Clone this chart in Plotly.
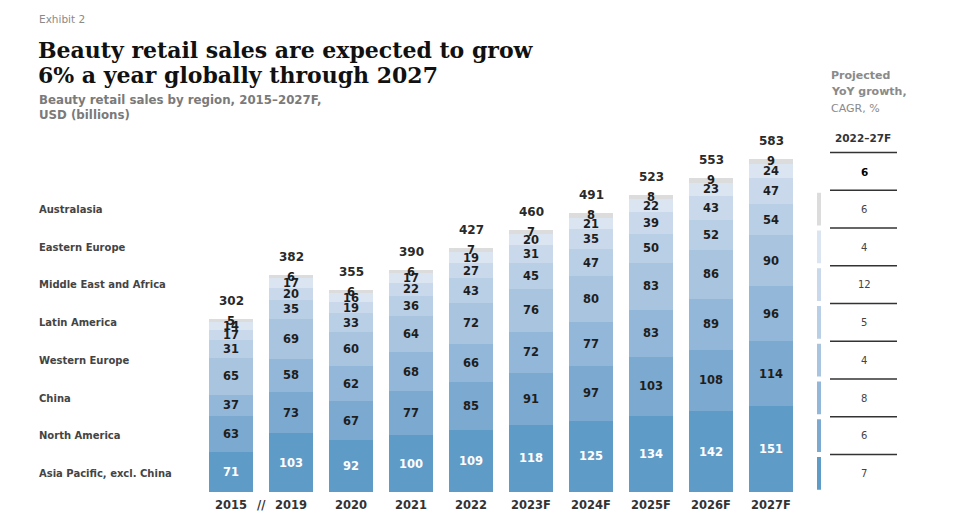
import plotly.graph_objects as go

years = ["2015", "2019", "2020", "2021", "2022", "2023F", "2024F", "2025F", "2026F", "2027F"]
totals = [302, 382, 355, 390, 427, 460, 491, 523, 553, 583]

# bottom to top
regions = ["Asia Pacific, excl. China", "North America", "China", "Western Europe",
           "Latin America", "Middle East and Africa", "Eastern Europe", "Australasia"]
asia_pacific = [71, 103, 92, 100, 109, 118, 125, 134, 142, 151]
north_america = [63, 73, 67, 77, 85, 91, 97, 103, 108, 114]
china = [37, 58, 62, 68, 66, 72, 77, 83, 89, 96]
western_europe = [65, 69, 60, 64, 72, 76, 80, 83, 86, 90]
latin_america = [31, 35, 33, 36, 43, 45, 47, 50, 52, 54]
middle_east_africa = [17, 20, 19, 22, 27, 31, 35, 39, 43, 47]
eastern_europe = [14, 17, 16, 17, 19, 20, 21, 22, 23, 24]
australasia = [5, 6, 6, 6, 7, 7, 8, 8, 9, 9]
series = [asia_pacific, north_america, china, western_europe,
          latin_america, middle_east_africa, eastern_europe, australasia]
cagr = [7, 6, 8, 4, 5, 12, 4, 6]
cagr_total = 6

colors = ["#5f9bc7", "#7ca9d0", "#93b7d8", "#a8c4df", "#b9cfe5", "#c9d9eb", "#dbe5f1", "#dcdcdc"]

W, H = 958, 525
L, R_, T, B = 201, 801, 140, 492
YMAX = 583 * (B - T) / (B - 160)

def xp(px):
    return (px - L) / (R_ - L)

def yp(py):
    return (B - py) / (B - T)

FONT = "DejaVu Sans"
fig = go.Figure()
for i, (name, vals) in enumerate(zip(regions, series)):
    fig.add_trace(go.Bar(x=years, y=vals, name=name, marker=dict(color=colors[i], line=dict(width=0)),
                         width=0.72, hoverinfo="x+y+name"))

ann = []
shapes = []

def A(**kw):
    kw.setdefault("showarrow", False)
    kw.setdefault("yanchor", "middle")
    kw.setdefault("xanchor", "center")
    ann.append(kw)

# segment labels
for j, yr in enumerate(years):
    cum = 0
    for i, vals in enumerate(series):
        v = vals[j]
        A(x=j, y=cum + v / 2, xref="x", yref="y", text="<b>%d</b>" % v,
          font=dict(family=FONT, size=11.5, color="#ffffff" if i == 0 else "#1e1e1e"))
        cum += v
    A(x=j, y=cum, xref="x", yref="y", text=str(totals[j]), yshift=18,
      font=dict(family=FONT, size=12, color="#2a2a2a", weight="bold"))

# break mark
A(x=0.5, y=yp(505), xref="x", yref="paper", text="<b>//</b>",
  font=dict(family=FONT, size=11.5, color="#333"))

# titles
A(x=xp(37), y=yp(19), xref="paper", yref="paper", text="Exhibit 2",
  xanchor="left", font=dict(family=FONT, size=10.5, color="#8a8a8a"))
A(x=xp(36), y=yp(50), xref="paper", yref="paper",
  text="<b>Beauty retail sales are expected to grow</b>",
  xanchor="left", font=dict(family="DejaVu Serif", size=22, color="#111"))
A(x=xp(36), y=yp(75), xref="paper", yref="paper",
  text="<b>6% a year globally through 2027</b>",
  xanchor="left", font=dict(family="DejaVu Serif", size=22, color="#111"))
A(x=xp(37), y=yp(100), xref="paper", yref="paper",
  text="<b>Beauty retail sales by region, 2015–2027F,</b>",
  xanchor="left", font=dict(family=FONT, size=11.8, color="#7a7a7a"))
A(x=xp(37), y=yp(115), xref="paper", yref="paper",
  text="<b>USD (billions)</b>",
  xanchor="left", font=dict(family=FONT, size=11.8, color="#7a7a7a"))

# right header
for txt, py in [("<b>Projected</b>", 75), ("<b>YoY growth,</b>", 92), ("CAGR, %", 108)]:
    A(x=xp(829), y=yp(py), xref="paper", yref="paper", text=txt,
      xanchor="left", font=dict(family=FONT, size=11, color="#8a8a8a"))
A(x=xp(863), y=yp(138), xref="paper", yref="paper", text="<b>2022–27F</b>",
  font=dict(family=FONT, size=10.5, color="#333"))

step = 37.75
line0 = 152.5
row0 = 171.5
A(x=xp(864), y=yp(row0), xref="paper", yref="paper", text="<b>%d</b>" % cagr_total,
  font=dict(family=FONT, size=10.5, color="#000"))
for k in range(9):
    ly = line0 + step * k
    shapes.append(dict(type="line", xref="paper", yref="paper", x0=xp(830), x1=xp(897), y0=yp(ly), y1=yp(ly),
                       line=dict(color="#333", width=1.5)))
labels_top = list(reversed(regions))
cagr_top = list(reversed(cagr))
colors_top = list(reversed(colors))
for k in range(8):
    cy = row0 + step * (k + 1)
    A(x=xp(864), y=yp(cy), xref="paper", yref="paper", text=str(cagr_top[k]),
      font=dict(family=FONT, size=10, color="#444"))
    A(x=xp(37), y=yp(cy), xref="paper", yref="paper", text="<b>%s</b>" % labels_top[k],
      xanchor="left", font=dict(family=FONT, size=10, color="#444"))
    y0 = line0 + step * (k + 1) + 2.5
    y1 = y0 + step - 5
    shapes.append(dict(type="rect", xref="paper", yref="paper", x0=xp(817), x1=xp(821), y0=yp(y0), y1=yp(y1),
                       line=dict(width=0), fillcolor=colors_top[k]))

fig.update_layout(
    width=W, height=H, barmode="stack", showlegend=False,
    margin=dict(l=L, r=W - R_, t=T, b=H - B),
    plot_bgcolor="white", paper_bgcolor="white",
    xaxis=dict(type="category", range=[-0.5, 9.5], showgrid=False, showline=False, zeroline=False, ticks="",
               tickfont=dict(family=FONT, size=11.5, color="#333", weight="bold"), ticklabelstandoff=4),
    yaxis=dict(range=[0, YMAX], visible=False),
    annotations=ann, shapes=shapes, bargap=0.28,
)
fig.write_html("out.html")
